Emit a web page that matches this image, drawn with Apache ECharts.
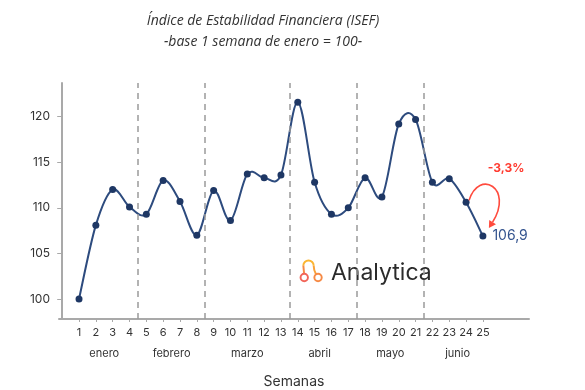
<!DOCTYPE html>
<html>
<head>
<meta charset="utf-8">
<script src="https://cdn.jsdelivr.net/npm/echarts@6/dist/echarts.min.js"></script>
<style>
  html, body { margin: 0; padding: 0; background: #fff; }
  #chart { width: 585px; height: 390px; }
</style>
</head>
<body>
<div id="chart"></div>
<script>
'use strict';

var weeks = [1, 2, 3, 4, 5, 6, 7, 8, 9, 10, 11, 12, 13, 14, 15, 16, 17, 18, 19, 20, 21, 22, 23, 24, 25];
var isef = [100.0, 108.1, 112.0, 110.1, 109.3, 113.0, 110.7, 107.0, 111.9, 108.6, 113.7, 113.3, 113.6,
    121.6, 112.8, 109.3, 110.0, 113.3, 111.2, 119.2, 119.7, 112.8, 113.2, 110.6, 106.9];
var months = ['enero', 'febrero', 'marzo', 'abril', 'mayo', 'junio'];
var monthCenters = [2.5, 6.5, 11, 15.3, 19.5, 23.5];
var monthBreaks = [4.5, 8.5, 13.5, 17.5, 21.5];
var yTicks = [100, 105, 110, 115, 120];

var FONT = 'Inter, "Noto Sans", sans-serif';
var AXIS_GREY = '#a9a9a9';
var LINE_COLOR = '#2d4b7e';

// 基于准备好的dom，初始化echarts实例
var chart = echarts.init(document.getElementById('chart'));

var points = weeks.map(function (w, i) { return [w, isef[i]]; });

var lineData = points.map(function (p, i) {
    var item = { value: p };
    if (i === points.length - 1) {
        item.label = {
            show: true,
            position: 'right',
            distance: 6,
            color: '#34548f',
            fontSize: 14,
            fontFamily: FONT,
            formatter: function (prm) { return prm.value[1].toFixed(1).replace('.', ','); }
        };
    }
    return item;
});

// curva suavizada (tipo Excel) entre el punto i-1 y el i
function renderSegment(params, api) {
    var i = params.dataIndex;
    if (i === 0) return null;
    var last = points.length - 1;
    var p0 = api.coord(points[Math.max(i - 2, 0)]);
    var p1 = api.coord(points[i - 1]);
    var p2 = api.coord(points[i]);
    var p3 = api.coord(points[Math.min(i + 1, last)]);
    return {
        type: 'bezierCurve',
        shape: {
            x1: p1[0], y1: p1[1],
            cpx1: p1[0] + (p2[0] - p0[0]) / 6, cpy1: p1[1] + (p2[1] - p0[1]) / 6,
            cpx2: p2[0] - (p3[0] - p1[0]) / 6, cpy2: p2[1] - (p3[1] - p1[1]) / 6,
            x2: p2[0], y2: p2[1]
        },
        style: { stroke: LINE_COLOR, lineWidth: 2, fill: null }
    };
}

var option = {
    animation: false,
    textStyle: { fontFamily: FONT },
    grid: {
        left: 59,
        right: 56,
        top: 83,
        bottom: 71,
        outerBoundsMode: 'none'
    },
    xAxis: [{
        type: 'value',
        min: -0.19,
        max: 27.74,
        name: 'Semanas',
        nameLocation: 'middle',
        nameGap: 56,
        nameTextStyle: { color: '#333', fontSize: 14, fontFamily: FONT },
        axisLine: { show: true, lineStyle: { color: AXIS_GREY, width: 2 } },
        axisTick: { show: true, length: 3, lineStyle: { color: AXIS_GREY }, customValues: weeks },
        axisLabel: { color: '#333', fontSize: 11, margin: 8, customValues: weeks },
        splitLine: { show: false }
    }, {
        type: 'value',
        min: -0.19,
        max: 27.74,
        position: 'bottom',
        offset: 21,
        axisLine: { show: false },
        axisTick: { show: false },
        axisLabel: {
            color: '#333',
            fontSize: 11,
            margin: 8,
            customValues: monthCenters,
            formatter: function (v) {
                var i = monthCenters.indexOf(v);
                return i >= 0 ? months[i] : '';
            }
        },
        splitLine: { show: false }
    }],
    yAxis: {
        type: 'value',
        min: 97.8,
        max: 123.7,
        axisLine: { show: true, lineStyle: { color: AXIS_GREY, width: 2 } },
        axisTick: { show: true, length: 5, lineStyle: { color: AXIS_GREY }, customValues: yTicks },
        axisLabel: { color: '#333', fontSize: 12, margin: 9, customValues: yTicks },
        splitLine: { show: false }
    },
    series: [{
        type: 'custom',
        xAxisIndex: 0,
        data: points,
        renderItem: renderSegment,
        silent: true,
        z: 2
    }, {
        type: 'line',
        xAxisIndex: 0,
        data: lineData,
        symbol: 'circle',
        symbolSize: 7,
        itemStyle: { color: '#1e3764' },
        lineStyle: { width: 0 },
        markLine: {
            silent: true,
            symbol: 'none',
            label: { show: false },
            lineStyle: { color: '#9a9a9a', type: [6, 5], width: 1.5 },
            data: monthBreaks.map(function (b) { return { xAxis: b }; })
        },
        z: 3
    }]
};

// 使用刚指定的配置项和数据显示图表。
chart.setOption(option);

// anotación de la última semana y logo
var n = isef.length;
var p24 = chart.convertToPixel({ xAxisIndex: 0, yAxisIndex: 0 }, points[n - 2]);
var p25 = chart.convertToPixel({ xAxisIndex: 0, yAxisIndex: 0 }, points[n - 1]);
var change = ((isef[n - 1] / isef[n - 2] - 1) * 100).toFixed(1).replace('.', ',') + '%';

var sx = p24[0] + 3, sy = p24[1] - 2;
var ex = p25[0] + 6, ey = p25[1] - 8;
var c2x = ex + 25, c2y = ey - 40;
var ang = Math.atan2(ey - c2y, ex - c2x);
var ah = 7, aw = 4;
var bx = ex - ah * Math.cos(ang), by = ey - ah * Math.sin(ang);

chart.setOption({
    graphic: [{
        type: 'text',
        x: 263, y: 21,
        style: {
            text: 'Índice de Estabilidad Financiera (ISEF)',
            align: 'center', verticalAlign: 'middle',
            fill: '#333', font: 'italic 14px "Open Sans", ' + FONT
        }
    }, {
        type: 'text',
        x: 263, y: 42,
        style: {
            text: '-base 1 semana de enero = 100-',
            align: 'center', verticalAlign: 'middle',
            fill: '#333', font: 'italic 14px "Open Sans", ' + FONT
        }
    }, {
        type: 'bezierCurve',
        shape: { x1: sx, y1: sy, cpx1: sx + 10, cpy1: sy - 32, cpx2: c2x, cpy2: c2y, x2: bx, y2: by },
        style: { stroke: '#ff4b3e', lineWidth: 1.6, fill: null },
        z: 10
    }, {
        type: 'polygon',
        shape: {
            points: [
                [ex, ey],
                [bx + aw * Math.sin(ang), by - aw * Math.cos(ang)],
                [bx - aw * Math.sin(ang), by + aw * Math.cos(ang)]
            ]
        },
        style: { fill: '#ff4b3e' },
        z: 10
    }, {
        type: 'text',
        x: p24[0] + 40, y: p24[1] - 34,
        style: {
            text: change,
            align: 'center', verticalAlign: 'middle',
            fill: '#ff3b30', font: 'bold 12px ' + FONT
        },
        z: 10
    }, {
        type: 'group',
        x: 297, y: 257,
        scaleX: 1.15, scaleY: 1.15,
        children: [{
            type: 'arc',
            shape: { cx: 10, cy: 7.5, r: 4.5, startAngle: Math.PI, endAngle: 2 * Math.PI, clockwise: true },
            style: { fill: null, stroke: '#fbb531', lineWidth: 1.7 }
        }, {
            type: 'line',
            shape: { x1: 5.5, y1: 7.5, x2: 6.2, y2: 14.7 },
            style: { stroke: '#f68a45', lineWidth: 1.7 }
        }, {
            type: 'bezierCurve',
            shape: { x1: 14.5, y1: 7.5, cpx1: 14.5, cpy1: 11, x2: 16.5, y2: 15 },
            style: { fill: null, stroke: '#f9a23a', lineWidth: 1.7 }
        }, {
            type: 'circle',
            shape: { cx: 6.3, cy: 17.8, r: 3.2 },
            style: { fill: null, stroke: '#f2665a', lineWidth: 1.7 }
        }, {
            type: 'circle',
            shape: { cx: 18.3, cy: 17.8, r: 3.2 },
            style: { fill: null, stroke: '#f68a45', lineWidth: 1.7 }
        }]
    }, {
        type: 'text',
        x: 331, y: 273,
        style: {
            text: 'Analytica',
            verticalAlign: 'middle',
            fill: '#2b2b2b', font: '23px ' + FONT
        }
    }]
});
</script>
</body>
</html>
